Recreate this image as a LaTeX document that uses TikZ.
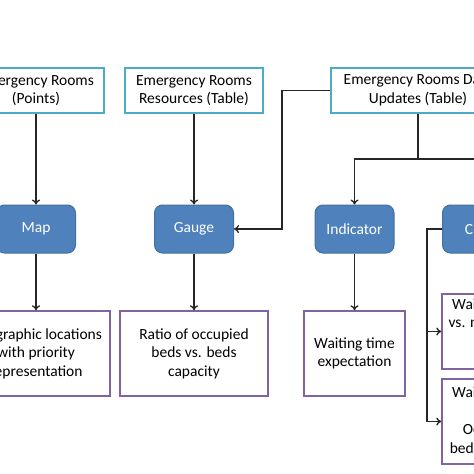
\documentclass[tikz,border=0pt]{standalone}
\usepackage{fontspec}
\setmainfont{Carlito}
\usetikzlibrary{calc,arrows.meta}
\definecolor{srcline}{HTML}{4BACC6}
\definecolor{widgetfill}{HTML}{4F81BD}
\definecolor{widgetline}{HTML}{41719C}
\definecolor{resline}{HTML}{8064A2}
\definecolor{wirecol}{HTML}{262626}
\tikzset{
	source/.style = {draw = srcline, line width = 1.5pt, fill = white, align = center,
		minimum height = 45pt, inner sep = 2pt, font = \fontsize{15.5}{18.5}\selectfont},
	widget/.style = {draw = widgetline, line width = 1pt, fill = widgetfill, text = white,
		rounded corners = 8pt, minimum width = 79pt, minimum height = 48pt,
		font = \fontsize{15.5}{18.5}\selectfont},
	result/.style = {draw = resline, line width = 1.5pt, fill = white, align = center,
		minimum height = 85pt, inner sep = 2pt, font = \fontsize{15.5}{18.5}\selectfont},
	wire/.style = {draw = wirecol, line width = 1.3pt, -{To[length = 5pt, width = 8pt]}}
}
\begin{document}
\begin{tikzpicture}[x = 1pt, y = -1pt]
	
	\useasboundingbox (0,0) rectangle (474,474);
	\clip (0,0) rectangle (474,474);
	
	% sources
	\node[source, minimum width = 136pt] (erPoints) at (36,90.5) {Emergency Rooms\\(Points)};
	\node[source, minimum width = 138pt] (erRes) at (194,90.5) {Emergency Rooms\\Resources (Table)};
	\node[source, minimum width = 174pt] (erData) at (418,90.5) {Emergency Rooms Data\\Updates (Table)};
	
	% widgets
	\node[widget] (map) at (36,229) {Map};
	\node[widget] (gauge) at (194,229) {Gauge};
	\node[widget] (indicator) at (354.5,229) {Indicator};
	\node[widget] (chart) at (482,229) {Chart};
	
	% results
	\node[result, minimum width = 148pt] (resMap) at (36,353.5) {Geographic locations\\with priority\\representation};
	\node[result, minimum width = 148pt] (resGauge) at (194,353.5) {Ratio of occupied\\beds vs. beds\\capacity};
	\node[result, minimum width = 101pt] (resInd) at (354.5,353.5) {Waiting time\\expectation};
	\node[result, minimum width = 101pt, minimum height = 75pt] (resChartA) at (492.5,331.5) {Waiting time\\vs. number of\\visits\\};
	\node[result, minimum width = 101pt] (resChartB) at (492.5,421.5) {Waiting time\\vs.\\Occupied\\beds capacity};
	
	% straight links
	\foreach \src/\dst in {erPoints/map, erRes/gauge, map/resMap, gauge/resGauge, indicator/resInd}
	\draw[wire] (\src.south) -- (\dst.north);
	
	% data updates
	\coordinate (busL) at (282,229);
	\coordinate (split) at (418,159);
	\draw[wire] (erData.west) -| (busL) -- (gauge.east);
	\draw[wire, -] (erData.south) -- (split);
	\draw[wire] (split) -| (indicator.north);
	\draw[wire] (split) -| (chart.north);
	
	% chart outputs
	\coordinate (busR) at (427,229);
	\draw[wire] (chart.west) -- (busR) |- (resChartB.west);
	\draw[wire] (busR |- resChartA.west) -- (resChartA.west);
	
\end{tikzpicture}
\end{document}
